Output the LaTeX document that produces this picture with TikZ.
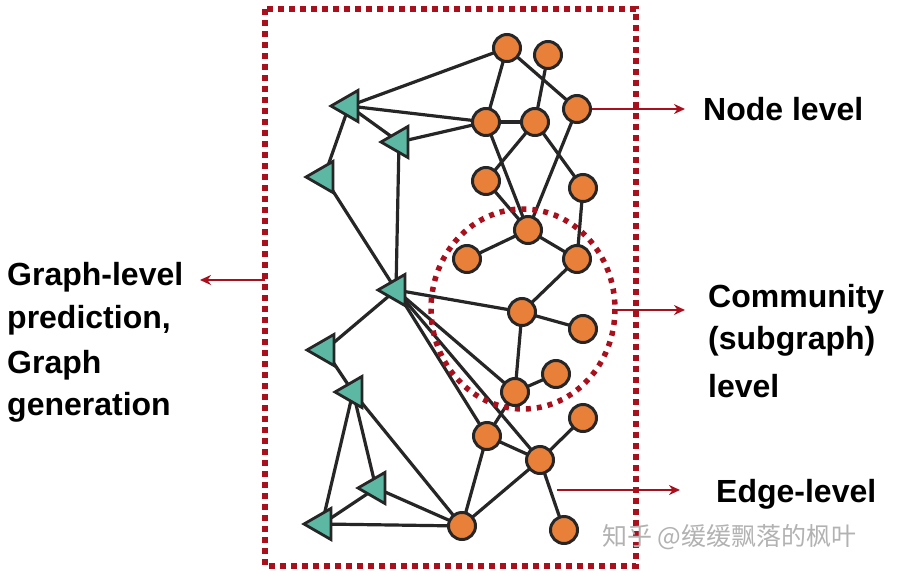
\documentclass[tikz,border=0pt]{standalone}
\usepackage{fontspec}
\setmainfont{Liberation Sans}
\newfontfamily\cjk{Noto Sans CJK SC}
\usetikzlibrary{shapes.geometric,backgrounds,arrows.meta}
\definecolor{org}{HTML}{E8803A}
\definecolor{tl}{HTML}{5DB8A3}
\definecolor{dred}{HTML}{A8101E}
\begin{document}
\begin{tikzpicture}[x=1pt,y=-1pt,
  cn/.style={circle,draw=black!85,fill=org,line width=3pt,minimum size=27pt,inner sep=0pt},
  tn/.style={regular polygon,regular polygon sides=3,shape border rotate=90,draw=black!85,fill=tl,line width=2.8pt,minimum size=36pt,inner sep=0pt},
  ed/.style={line width=3.2pt,black!85},
  rd/.style={dred,line width=5.5pt,dash pattern=on 6pt off 5pt},
  ar/.style={dred,line width=2.4pt,-{Stealth[length=11pt,width=10pt]}},
  lb/.style={font=\fontsize{32}{38}\selectfont\bfseries,anchor=west,inner sep=0pt}]
\useasboundingbox (0,0) rectangle (900,573);
\draw[rd] (265,9) rectangle (636,566);
\draw[dred,line width=5.5pt,dash pattern=on 5pt off 6pt] (523,309) ellipse (92 and 100);
\foreach \n/\x/\y in {c1/507/48,c2/548/55,c3/577/109,c4/486/122,c5/535/122,c6/486/181,c7/583/188,c8/528/230,c9/467/259,c10/577/259,c11/522/312,c12/583/329,c13/556/374,c14/515/392,c15/583/418,c16/487/436,c17/540/460,c18/462/526,c19/564/530}
  \node[cn] (\n) at (\x,\y) {};
\foreach \n/\x/\y in {t1/349/106,t2/399/142,t3/324/177,t4/396/290,t5/325/350,t6/353/392,t7/376/488,t8/322/524}
  \node[tn] (\n) at (\x,\y) {};
\begin{scope}[on background layer]
\foreach \a/\b in {c1/t1,c4/t1,c4/t2,t1/t2,t1/t3,t3/t4,t2/t4,c1/c4,c1/c3,c2/c5,c4/c5,c5/c6,c4/c8,c3/c8,c5/c7,c6/c8,c8/c9,c8/c10,c7/c10,c10/c11,t4/c11,c11/c12,c11/c14,c14/c13,t4/c14,t4/c16,t4/c17,c14/c16,c16/c17,c17/c15,c17/c19,c16/c18,c17/c18,t4/t5,t5/t6,t6/t8,t6/t7,t6/c18,t7/t8,t8/c18,t7/c18}
  \draw[ed] (\a.center) -- (\b.center);
\end{scope}
\coordinate (n0) at (685,109);
\coordinate (m0) at (617,310);
\coordinate (m1) at (685,310);
\coordinate (e0) at (557,490);
\coordinate (e1) at (680,490);
\coordinate (g0) at (265,280);
\coordinate (g1) at (200,280);
\draw[ar] (c3.east) -- (n0);
\draw[ar] (m0) -- (m1);
\draw[ar] (e0) -- (e1);
\draw[ar] (g0) -- (g1);
\node[lb] (tn1) at (703,109) {Node level};
\node[lb] (tm1) at (708,299) {Community};
\node[lb] (tm2) at (708,341) {(subgraph)};
\node[lb] (tm3) at (708,386) {level};
\node[lb] (te) at (716,494) {Edge-level};
\node[lb] (tg1) at (7,277) {Graph-level};
\node[lb] (tg2) at (7,320) {prediction,};
\node[lb] (tg3) at (7,365) {Graph};
\node[lb] (tg4) at (7,407) {generation};
\node[anchor=west,inner sep=0pt,text=black!30,font=\fontsize{25}{30}\selectfont] (wm) at (602,537) {\cjk 知乎 @缓缓飘落的枫叶};
\end{tikzpicture}
\end{document}
